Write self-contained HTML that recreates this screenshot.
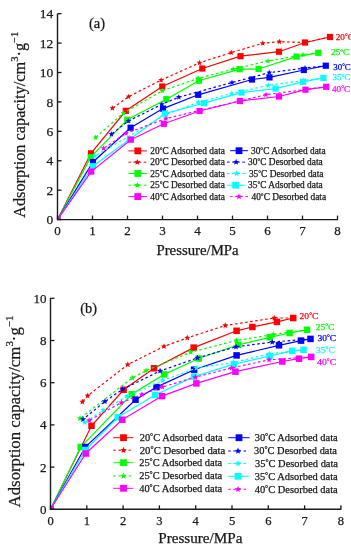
<!DOCTYPE html>
<html><head><meta charset="utf-8"><style>
html,body{margin:0;padding:0;background:#fff;}
svg{display:block;will-change:transform;}
text{font-family:"Liberation Serif",serif;fill:#1a1a1a;stroke:#1a1a1a;stroke-width:0.25px;}
</style></head><body>
<svg width="351" height="550" viewBox="0 0 351 550">
<rect width="351" height="550" fill="#fff"/>
<defs><clipPath id="ct"><rect x="57.5" y="0" width="300" height="219.6"/></clipPath><clipPath id="cb"><rect x="50.5" y="280" width="300" height="229.3"/></clipPath></defs>
<g clip-path="url(#ct)"><polyline points="57.5,219.6 91.0,153.3 125.8,110.8 162.3,86.5 202.3,68.5 240.5,56.2 279.0,51.7 305.0,42.5 330.0,37.0" fill="none" stroke="#ff0000" stroke-width="1.2"/>
<polyline points="330.0,37.0 305.0,42.5 279.4,41.7 262.7,43.3 231.2,52.6 199.5,62.8 161.1,80.1 128.6,96.7 112.4,108.2" fill="none" stroke="#ff0000" stroke-width="1.2" stroke-dasharray="2.6,2.5"/>
<rect x="54.40" y="216.50" width="6.2" height="6.2" fill="#ff0000"/>
<rect x="87.90" y="150.20" width="6.2" height="6.2" fill="#ff0000"/>
<rect x="122.70" y="107.70" width="6.2" height="6.2" fill="#ff0000"/>
<rect x="159.20" y="83.40" width="6.2" height="6.2" fill="#ff0000"/>
<rect x="199.20" y="65.40" width="6.2" height="6.2" fill="#ff0000"/>
<rect x="237.40" y="53.10" width="6.2" height="6.2" fill="#ff0000"/>
<rect x="275.90" y="48.60" width="6.2" height="6.2" fill="#ff0000"/>
<rect x="301.90" y="39.40" width="6.2" height="6.2" fill="#ff0000"/>
<rect x="326.90" y="33.90" width="6.2" height="6.2" fill="#ff0000"/>
<path d="M305.00,39.50 L305.79,41.41 L307.85,41.57 L306.28,42.92 L306.76,44.93 L305.00,43.85 L303.24,44.93 L303.72,42.92 L302.15,41.57 L304.21,41.41Z" fill="#ff0000"/>
<path d="M279.40,38.70 L280.19,40.61 L282.25,40.77 L280.68,42.12 L281.16,44.13 L279.40,43.05 L277.64,44.13 L278.12,42.12 L276.55,40.77 L278.61,40.61Z" fill="#ff0000"/>
<path d="M262.70,40.30 L263.49,42.21 L265.55,42.37 L263.98,43.72 L264.46,45.73 L262.70,44.65 L260.94,45.73 L261.42,43.72 L259.85,42.37 L261.91,42.21Z" fill="#ff0000"/>
<path d="M231.20,49.60 L231.99,51.51 L234.05,51.67 L232.48,53.02 L232.96,55.03 L231.20,53.95 L229.44,55.03 L229.92,53.02 L228.35,51.67 L230.41,51.51Z" fill="#ff0000"/>
<path d="M199.50,59.80 L200.29,61.71 L202.35,61.87 L200.78,63.22 L201.26,65.23 L199.50,64.15 L197.74,65.23 L198.22,63.22 L196.65,61.87 L198.71,61.71Z" fill="#ff0000"/>
<path d="M161.10,77.10 L161.89,79.01 L163.95,79.17 L162.38,80.52 L162.86,82.53 L161.10,81.45 L159.34,82.53 L159.82,80.52 L158.25,79.17 L160.31,79.01Z" fill="#ff0000"/>
<path d="M128.60,93.70 L129.39,95.61 L131.45,95.77 L129.88,97.12 L130.36,99.13 L128.60,98.05 L126.84,99.13 L127.32,97.12 L125.75,95.77 L127.81,95.61Z" fill="#ff0000"/>
<path d="M112.40,105.20 L113.19,107.11 L115.25,107.27 L113.68,108.62 L114.16,110.63 L112.40,109.55 L110.64,110.63 L111.12,108.62 L109.55,107.27 L111.61,107.11Z" fill="#ff0000"/>
<polyline points="57.5,219.6 90.8,157.2 127.3,119.7 166.3,99.2 198.8,80.7 239.6,69.2 258.6,69.0 296.5,56.6 318.3,52.8" fill="none" stroke="#00ff00" stroke-width="1.2"/>
<polyline points="318.3,52.8 303.0,54.8 268.0,61.0 233.2,69.2 198.2,78.4 162.2,90.8 123.4,113.0 95.5,137.6" fill="none" stroke="#00ff00" stroke-width="1.2" stroke-dasharray="2.6,2.5"/>
<rect x="54.40" y="216.50" width="6.2" height="6.2" fill="#00ff00"/>
<rect x="87.70" y="154.10" width="6.2" height="6.2" fill="#00ff00"/>
<rect x="124.20" y="116.60" width="6.2" height="6.2" fill="#00ff00"/>
<rect x="163.20" y="96.10" width="6.2" height="6.2" fill="#00ff00"/>
<rect x="195.70" y="77.60" width="6.2" height="6.2" fill="#00ff00"/>
<rect x="236.50" y="66.10" width="6.2" height="6.2" fill="#00ff00"/>
<rect x="255.50" y="65.90" width="6.2" height="6.2" fill="#00ff00"/>
<rect x="293.40" y="53.50" width="6.2" height="6.2" fill="#00ff00"/>
<rect x="315.20" y="49.70" width="6.2" height="6.2" fill="#00ff00"/>
<path d="M303.00,51.80 L303.79,53.71 L305.85,53.87 L304.28,55.22 L304.76,57.23 L303.00,56.15 L301.24,57.23 L301.72,55.22 L300.15,53.87 L302.21,53.71Z" fill="#00ff00"/>
<path d="M268.00,58.00 L268.79,59.91 L270.85,60.07 L269.28,61.42 L269.76,63.43 L268.00,62.35 L266.24,63.43 L266.72,61.42 L265.15,60.07 L267.21,59.91Z" fill="#00ff00"/>
<path d="M233.20,66.20 L233.99,68.11 L236.05,68.27 L234.48,69.62 L234.96,71.63 L233.20,70.55 L231.44,71.63 L231.92,69.62 L230.35,68.27 L232.41,68.11Z" fill="#00ff00"/>
<path d="M198.20,75.40 L198.99,77.31 L201.05,77.47 L199.48,78.82 L199.96,80.83 L198.20,79.75 L196.44,80.83 L196.92,78.82 L195.35,77.47 L197.41,77.31Z" fill="#00ff00"/>
<path d="M162.20,87.80 L162.99,89.71 L165.05,89.87 L163.48,91.22 L163.96,93.23 L162.20,92.15 L160.44,93.23 L160.92,91.22 L159.35,89.87 L161.41,89.71Z" fill="#00ff00"/>
<path d="M123.40,110.00 L124.19,111.91 L126.25,112.07 L124.68,113.42 L125.16,115.43 L123.40,114.35 L121.64,115.43 L122.12,113.42 L120.55,112.07 L122.61,111.91Z" fill="#00ff00"/>
<path d="M95.50,134.60 L96.29,136.51 L98.35,136.67 L96.78,138.02 L97.26,140.03 L95.50,138.95 L93.74,140.03 L94.22,138.02 L92.65,136.67 L94.71,136.51Z" fill="#00ff00"/>
<polyline points="57.5,219.6 93.0,162.0 130.6,127.7 163.0,108.6 198.2,94.8 252.0,79.5 269.5,77.4 303.8,70.0 325.8,65.7" fill="none" stroke="#0000ff" stroke-width="1.2"/>
<polyline points="325.8,65.7 305.0,68.0 269.3,72.7 232.0,82.5 178.8,97.2 161.9,104.3 128.2,121.1 111.4,134.2" fill="none" stroke="#0000ff" stroke-width="1.2" stroke-dasharray="2.6,2.5"/>
<rect x="54.40" y="216.50" width="6.2" height="6.2" fill="#0000ff"/>
<rect x="89.90" y="158.90" width="6.2" height="6.2" fill="#0000ff"/>
<rect x="127.50" y="124.60" width="6.2" height="6.2" fill="#0000ff"/>
<rect x="159.90" y="105.50" width="6.2" height="6.2" fill="#0000ff"/>
<rect x="195.10" y="91.70" width="6.2" height="6.2" fill="#0000ff"/>
<rect x="248.90" y="76.40" width="6.2" height="6.2" fill="#0000ff"/>
<rect x="266.40" y="74.30" width="6.2" height="6.2" fill="#0000ff"/>
<rect x="300.70" y="66.90" width="6.2" height="6.2" fill="#0000ff"/>
<rect x="322.70" y="62.60" width="6.2" height="6.2" fill="#0000ff"/>
<path d="M305.00,65.00 L305.79,66.91 L307.85,67.07 L306.28,68.42 L306.76,70.43 L305.00,69.35 L303.24,70.43 L303.72,68.42 L302.15,67.07 L304.21,66.91Z" fill="#0000ff"/>
<path d="M269.30,69.70 L270.09,71.61 L272.15,71.77 L270.58,73.12 L271.06,75.13 L269.30,74.05 L267.54,75.13 L268.02,73.12 L266.45,71.77 L268.51,71.61Z" fill="#0000ff"/>
<path d="M232.00,79.50 L232.79,81.41 L234.85,81.57 L233.28,82.92 L233.76,84.93 L232.00,83.85 L230.24,84.93 L230.72,82.92 L229.15,81.57 L231.21,81.41Z" fill="#0000ff"/>
<path d="M178.80,94.20 L179.59,96.11 L181.65,96.27 L180.08,97.62 L180.56,99.63 L178.80,98.55 L177.04,99.63 L177.52,97.62 L175.95,96.27 L178.01,96.11Z" fill="#0000ff"/>
<path d="M161.90,101.30 L162.69,103.21 L164.75,103.37 L163.18,104.72 L163.66,106.73 L161.90,105.65 L160.14,106.73 L160.62,104.72 L159.05,103.37 L161.11,103.21Z" fill="#0000ff"/>
<path d="M128.20,118.10 L128.99,120.01 L131.05,120.17 L129.48,121.52 L129.96,123.53 L128.20,122.45 L126.44,123.53 L126.92,121.52 L125.35,120.17 L127.41,120.01Z" fill="#0000ff"/>
<path d="M111.40,131.20 L112.19,133.11 L114.25,133.27 L112.68,134.62 L113.16,136.63 L111.40,135.55 L109.64,136.63 L110.12,134.62 L108.55,133.27 L110.61,133.11Z" fill="#0000ff"/>
<polyline points="57.5,219.6 93.0,166.2 129.8,139.2 165.0,113.5 204.0,103.2 241.5,92.6 275.5,88.6 303.0,81.8 323.4,78.0" fill="none" stroke="#00ffff" stroke-width="1.2"/>
<polyline points="323.4,78.0 303.7,80.5 268.3,85.3 231.7,93.5 198.6,102.3 165.6,114.6 95.0,156.0" fill="none" stroke="#00ffff" stroke-width="1.2" stroke-dasharray="2.6,2.5"/>
<rect x="54.40" y="216.50" width="6.2" height="6.2" fill="#00ffff"/>
<rect x="89.90" y="163.10" width="6.2" height="6.2" fill="#00ffff"/>
<rect x="126.70" y="136.10" width="6.2" height="6.2" fill="#00ffff"/>
<rect x="161.90" y="110.40" width="6.2" height="6.2" fill="#00ffff"/>
<rect x="200.90" y="100.10" width="6.2" height="6.2" fill="#00ffff"/>
<rect x="238.40" y="89.50" width="6.2" height="6.2" fill="#00ffff"/>
<rect x="272.40" y="85.50" width="6.2" height="6.2" fill="#00ffff"/>
<rect x="299.90" y="78.70" width="6.2" height="6.2" fill="#00ffff"/>
<rect x="320.30" y="74.90" width="6.2" height="6.2" fill="#00ffff"/>
<path d="M303.70,77.50 L304.49,79.41 L306.55,79.57 L304.98,80.92 L305.46,82.93 L303.70,81.85 L301.94,82.93 L302.42,80.92 L300.85,79.57 L302.91,79.41Z" fill="#00ffff"/>
<path d="M268.30,82.30 L269.09,84.21 L271.15,84.37 L269.58,85.72 L270.06,87.73 L268.30,86.65 L266.54,87.73 L267.02,85.72 L265.45,84.37 L267.51,84.21Z" fill="#00ffff"/>
<path d="M231.70,90.50 L232.49,92.41 L234.55,92.57 L232.98,93.92 L233.46,95.93 L231.70,94.85 L229.94,95.93 L230.42,93.92 L228.85,92.57 L230.91,92.41Z" fill="#00ffff"/>
<path d="M198.60,99.30 L199.39,101.21 L201.45,101.37 L199.88,102.72 L200.36,104.73 L198.60,103.65 L196.84,104.73 L197.32,102.72 L195.75,101.37 L197.81,101.21Z" fill="#00ffff"/>
<path d="M165.60,111.60 L166.39,113.51 L168.45,113.67 L166.88,115.02 L167.36,117.03 L165.60,115.95 L163.84,117.03 L164.32,115.02 L162.75,113.67 L164.81,113.51Z" fill="#00ffff"/>
<path d="M95.00,153.00 L95.79,154.91 L97.85,155.07 L96.28,156.42 L96.76,158.43 L95.00,157.35 L93.24,158.43 L93.72,156.42 L92.15,155.07 L94.21,154.91Z" fill="#00ffff"/>
<polyline points="57.5,219.6 91.2,171.6 130.8,139.7 163.8,123.8 199.6,111.0 239.9,101.0 279.0,96.5 305.5,89.7 326.2,86.8" fill="none" stroke="#ff00ff" stroke-width="1.2"/>
<polyline points="326.2,86.8 266.0,94.7 166.0,118.5 126.0,133.4 103.5,148.4" fill="none" stroke="#ff00ff" stroke-width="1.2" stroke-dasharray="2.6,2.5"/>
<rect x="54.40" y="216.50" width="6.2" height="6.2" fill="#ff00ff"/>
<rect x="88.10" y="168.50" width="6.2" height="6.2" fill="#ff00ff"/>
<rect x="127.70" y="136.60" width="6.2" height="6.2" fill="#ff00ff"/>
<rect x="160.70" y="120.70" width="6.2" height="6.2" fill="#ff00ff"/>
<rect x="196.50" y="107.90" width="6.2" height="6.2" fill="#ff00ff"/>
<rect x="236.80" y="97.90" width="6.2" height="6.2" fill="#ff00ff"/>
<rect x="275.90" y="93.40" width="6.2" height="6.2" fill="#ff00ff"/>
<rect x="302.40" y="86.60" width="6.2" height="6.2" fill="#ff00ff"/>
<rect x="323.10" y="83.70" width="6.2" height="6.2" fill="#ff00ff"/>
<path d="M266.00,91.70 L266.79,93.61 L268.85,93.77 L267.28,95.12 L267.76,97.13 L266.00,96.05 L264.24,97.13 L264.72,95.12 L263.15,93.77 L265.21,93.61Z" fill="#ff00ff"/>
<path d="M166.00,115.50 L166.79,117.41 L168.85,117.57 L167.28,118.92 L167.76,120.93 L166.00,119.85 L164.24,120.93 L164.72,118.92 L163.15,117.57 L165.21,117.41Z" fill="#ff00ff"/>
<path d="M126.00,130.40 L126.79,132.31 L128.85,132.47 L127.28,133.82 L127.76,135.83 L126.00,134.75 L124.24,135.83 L124.72,133.82 L123.15,132.47 L125.21,132.31Z" fill="#ff00ff"/>
<path d="M103.50,145.40 L104.29,147.31 L106.35,147.47 L104.78,148.82 L105.26,150.83 L103.50,149.75 L101.74,150.83 L102.22,148.82 L100.65,147.47 L102.71,147.31Z" fill="#ff00ff"/></g>
<g clip-path="url(#cb)"><polyline points="50.5,509.3 91.5,425.8 123.6,389.8 154.0,368.3 193.7,347.6 236.6,330.8 252.4,327.0 276.9,321.9 293.2,318.0" fill="none" stroke="#ff0000" stroke-width="1.2"/>
<polyline points="293.2,318.0 274.3,318.0 225.3,325.5 187.3,337.9 164.0,346.4 127.8,364.6 87.7,395.7 82.4,401.8" fill="none" stroke="#ff0000" stroke-width="1.2" stroke-dasharray="2.6,2.5"/>
<rect x="47.25" y="506.05" width="6.5" height="6.5" fill="#ff0000"/>
<rect x="88.25" y="422.55" width="6.5" height="6.5" fill="#ff0000"/>
<rect x="120.35" y="386.55" width="6.5" height="6.5" fill="#ff0000"/>
<rect x="150.75" y="365.05" width="6.5" height="6.5" fill="#ff0000"/>
<rect x="190.45" y="344.35" width="6.5" height="6.5" fill="#ff0000"/>
<rect x="233.35" y="327.55" width="6.5" height="6.5" fill="#ff0000"/>
<rect x="249.15" y="323.75" width="6.5" height="6.5" fill="#ff0000"/>
<rect x="273.65" y="318.65" width="6.5" height="6.5" fill="#ff0000"/>
<rect x="289.95" y="314.75" width="6.5" height="6.5" fill="#ff0000"/>
<path d="M274.30,314.80 L275.15,316.84 L277.34,317.01 L275.67,318.44 L276.18,320.59 L274.30,319.44 L272.42,320.59 L272.93,318.44 L271.26,317.01 L273.45,316.84Z" fill="#ff0000"/>
<path d="M225.30,322.30 L226.15,324.34 L228.34,324.51 L226.67,325.94 L227.18,328.09 L225.30,326.94 L223.42,328.09 L223.93,325.94 L222.26,324.51 L224.45,324.34Z" fill="#ff0000"/>
<path d="M187.30,334.70 L188.15,336.74 L190.34,336.91 L188.67,338.34 L189.18,340.49 L187.30,339.34 L185.42,340.49 L185.93,338.34 L184.26,336.91 L186.45,336.74Z" fill="#ff0000"/>
<path d="M164.00,343.20 L164.85,345.24 L167.04,345.41 L165.37,346.84 L165.88,348.99 L164.00,347.84 L162.12,348.99 L162.63,346.84 L160.96,345.41 L163.15,345.24Z" fill="#ff0000"/>
<path d="M127.80,361.40 L128.65,363.44 L130.84,363.61 L129.17,365.04 L129.68,367.19 L127.80,366.04 L125.92,367.19 L126.43,365.04 L124.76,363.61 L126.95,363.44Z" fill="#ff0000"/>
<path d="M87.70,392.50 L88.55,394.54 L90.74,394.71 L89.07,396.14 L89.58,398.29 L87.70,397.14 L85.82,398.29 L86.33,396.14 L84.66,394.71 L86.85,394.54Z" fill="#ff0000"/>
<path d="M82.40,398.60 L83.25,400.64 L85.44,400.81 L83.77,402.24 L84.28,404.39 L82.40,403.24 L80.52,404.39 L81.03,402.24 L79.36,400.81 L81.55,400.64Z" fill="#ff0000"/>
<polyline points="50.5,509.3 80.7,447.0 131.7,394.3 164.2,374.4 198.7,358.5 238.3,344.8 269.8,337.3 289.6,333.0 307.0,329.8" fill="none" stroke="#00ff00" stroke-width="1.2"/>
<polyline points="307.0,329.8 273.2,334.5 236.5,340.5 190.7,352.2 146.0,370.6 132.3,377.9 80.0,418.5" fill="none" stroke="#00ff00" stroke-width="1.2" stroke-dasharray="2.6,2.5"/>
<rect x="47.25" y="506.05" width="6.5" height="6.5" fill="#00ff00"/>
<rect x="77.45" y="443.75" width="6.5" height="6.5" fill="#00ff00"/>
<rect x="128.45" y="391.05" width="6.5" height="6.5" fill="#00ff00"/>
<rect x="160.95" y="371.15" width="6.5" height="6.5" fill="#00ff00"/>
<rect x="195.45" y="355.25" width="6.5" height="6.5" fill="#00ff00"/>
<rect x="235.05" y="341.55" width="6.5" height="6.5" fill="#00ff00"/>
<rect x="266.55" y="334.05" width="6.5" height="6.5" fill="#00ff00"/>
<rect x="286.35" y="329.75" width="6.5" height="6.5" fill="#00ff00"/>
<rect x="303.75" y="326.55" width="6.5" height="6.5" fill="#00ff00"/>
<path d="M273.20,331.30 L274.05,333.34 L276.24,333.51 L274.57,334.94 L275.08,337.09 L273.20,335.94 L271.32,337.09 L271.83,334.94 L270.16,333.51 L272.35,333.34Z" fill="#00ff00"/>
<path d="M236.50,337.30 L237.35,339.34 L239.54,339.51 L237.87,340.94 L238.38,343.09 L236.50,341.94 L234.62,343.09 L235.13,340.94 L233.46,339.51 L235.65,339.34Z" fill="#00ff00"/>
<path d="M190.70,349.00 L191.55,351.04 L193.74,351.21 L192.07,352.64 L192.58,354.79 L190.70,353.64 L188.82,354.79 L189.33,352.64 L187.66,351.21 L189.85,351.04Z" fill="#00ff00"/>
<path d="M146.00,367.40 L146.85,369.44 L149.04,369.61 L147.37,371.04 L147.88,373.19 L146.00,372.04 L144.12,373.19 L144.63,371.04 L142.96,369.61 L145.15,369.44Z" fill="#00ff00"/>
<path d="M132.30,374.70 L133.15,376.74 L135.34,376.91 L133.67,378.34 L134.18,380.49 L132.30,379.34 L130.42,380.49 L130.93,378.34 L129.26,376.91 L131.45,376.74Z" fill="#00ff00"/>
<path d="M80.00,415.30 L80.85,417.34 L83.04,417.51 L81.37,418.94 L81.88,421.09 L80.00,419.94 L78.12,421.09 L78.63,418.94 L76.96,417.51 L79.15,417.34Z" fill="#00ff00"/>
<polyline points="50.5,509.3 85.3,447.0 135.5,399.7 156.5,387.1 194.1,369.7 236.6,355.4 279.0,345.3 301.0,340.6 310.5,338.9" fill="none" stroke="#0000ff" stroke-width="1.2"/>
<polyline points="310.5,338.9 272.2,342.1 236.0,346.8 197.5,357.9 160.1,371.0 122.5,389.3 104.9,401.5 83.1,419.3" fill="none" stroke="#0000ff" stroke-width="1.2" stroke-dasharray="2.6,2.5"/>
<rect x="47.25" y="506.05" width="6.5" height="6.5" fill="#0000ff"/>
<rect x="82.05" y="443.75" width="6.5" height="6.5" fill="#0000ff"/>
<rect x="132.25" y="396.45" width="6.5" height="6.5" fill="#0000ff"/>
<rect x="153.25" y="383.85" width="6.5" height="6.5" fill="#0000ff"/>
<rect x="190.85" y="366.45" width="6.5" height="6.5" fill="#0000ff"/>
<rect x="233.35" y="352.15" width="6.5" height="6.5" fill="#0000ff"/>
<rect x="275.75" y="342.05" width="6.5" height="6.5" fill="#0000ff"/>
<rect x="297.75" y="337.35" width="6.5" height="6.5" fill="#0000ff"/>
<rect x="307.25" y="335.65" width="6.5" height="6.5" fill="#0000ff"/>
<path d="M272.20,338.90 L273.05,340.94 L275.24,341.11 L273.57,342.54 L274.08,344.69 L272.20,343.54 L270.32,344.69 L270.83,342.54 L269.16,341.11 L271.35,340.94Z" fill="#0000ff"/>
<path d="M236.00,343.60 L236.85,345.64 L239.04,345.81 L237.37,347.24 L237.88,349.39 L236.00,348.24 L234.12,349.39 L234.63,347.24 L232.96,345.81 L235.15,345.64Z" fill="#0000ff"/>
<path d="M197.50,354.70 L198.35,356.74 L200.54,356.91 L198.87,358.34 L199.38,360.49 L197.50,359.34 L195.62,360.49 L196.13,358.34 L194.46,356.91 L196.65,356.74Z" fill="#0000ff"/>
<path d="M160.10,367.80 L160.95,369.84 L163.14,370.01 L161.47,371.44 L161.98,373.59 L160.10,372.44 L158.22,373.59 L158.73,371.44 L157.06,370.01 L159.25,369.84Z" fill="#0000ff"/>
<path d="M122.50,386.10 L123.35,388.14 L125.54,388.31 L123.87,389.74 L124.38,391.89 L122.50,390.74 L120.62,391.89 L121.13,389.74 L119.46,388.31 L121.65,388.14Z" fill="#0000ff"/>
<path d="M104.90,398.30 L105.75,400.34 L107.94,400.51 L106.27,401.94 L106.78,404.09 L104.90,402.94 L103.02,404.09 L103.53,401.94 L101.86,400.51 L104.05,400.34Z" fill="#0000ff"/>
<path d="M83.10,416.10 L83.95,418.14 L86.14,418.31 L84.47,419.74 L84.98,421.89 L83.10,420.74 L81.22,421.89 L81.73,419.74 L80.06,418.31 L82.25,418.14Z" fill="#0000ff"/>
<polyline points="50.5,509.3 85.3,450.0 117.9,417.3 155.0,395.0 194.1,376.6 234.0,364.2 269.7,356.0 292.2,350.9 303.5,349.8" fill="none" stroke="#00ffff" stroke-width="1.2"/>
<polyline points="303.5,349.8 269.5,353.9 233.3,362.5 196.4,368.1 162.4,380.6 127.0,396.2 103.2,410.2 84.8,422.5" fill="none" stroke="#00ffff" stroke-width="1.2" stroke-dasharray="2.6,2.5"/>
<rect x="47.25" y="506.05" width="6.5" height="6.5" fill="#00ffff"/>
<rect x="82.05" y="446.75" width="6.5" height="6.5" fill="#00ffff"/>
<rect x="114.65" y="414.05" width="6.5" height="6.5" fill="#00ffff"/>
<rect x="151.75" y="391.75" width="6.5" height="6.5" fill="#00ffff"/>
<rect x="190.85" y="373.35" width="6.5" height="6.5" fill="#00ffff"/>
<rect x="230.75" y="360.95" width="6.5" height="6.5" fill="#00ffff"/>
<rect x="266.45" y="352.75" width="6.5" height="6.5" fill="#00ffff"/>
<rect x="288.95" y="347.65" width="6.5" height="6.5" fill="#00ffff"/>
<rect x="300.25" y="346.55" width="6.5" height="6.5" fill="#00ffff"/>
<path d="M269.50,350.70 L270.35,352.74 L272.54,352.91 L270.87,354.34 L271.38,356.49 L269.50,355.34 L267.62,356.49 L268.13,354.34 L266.46,352.91 L268.65,352.74Z" fill="#00ffff"/>
<path d="M233.30,359.30 L234.15,361.34 L236.34,361.51 L234.67,362.94 L235.18,365.09 L233.30,363.94 L231.42,365.09 L231.93,362.94 L230.26,361.51 L232.45,361.34Z" fill="#00ffff"/>
<path d="M196.40,364.90 L197.25,366.94 L199.44,367.11 L197.77,368.54 L198.28,370.69 L196.40,369.54 L194.52,370.69 L195.03,368.54 L193.36,367.11 L195.55,366.94Z" fill="#00ffff"/>
<path d="M162.40,377.40 L163.25,379.44 L165.44,379.61 L163.77,381.04 L164.28,383.19 L162.40,382.04 L160.52,383.19 L161.03,381.04 L159.36,379.61 L161.55,379.44Z" fill="#00ffff"/>
<path d="M127.00,393.00 L127.85,395.04 L130.04,395.21 L128.37,396.64 L128.88,398.79 L127.00,397.64 L125.12,398.79 L125.63,396.64 L123.96,395.21 L126.15,395.04Z" fill="#00ffff"/>
<path d="M103.20,407.00 L104.05,409.04 L106.24,409.21 L104.57,410.64 L105.08,412.79 L103.20,411.64 L101.32,412.79 L101.83,410.64 L100.16,409.21 L102.35,409.04Z" fill="#00ffff"/>
<path d="M84.80,419.30 L85.65,421.34 L87.84,421.51 L86.17,422.94 L86.68,425.09 L84.80,423.94 L82.92,425.09 L83.43,422.94 L81.76,421.51 L83.95,421.34Z" fill="#00ffff"/>
<polyline points="50.5,509.3 85.8,453.5 122.2,419.7 162.0,396.1 196.4,383.4 235.4,371.7 282.3,361.5 299.0,358.7 311.2,356.9" fill="none" stroke="#ff00ff" stroke-width="1.2"/>
<polyline points="311.2,356.9 269.0,359.8 231.7,367.9 195.3,377.2 162.4,387.0 141.9,394.5 121.4,402.6 89.2,420.4" fill="none" stroke="#ff00ff" stroke-width="1.2" stroke-dasharray="2.6,2.5"/>
<rect x="47.25" y="506.05" width="6.5" height="6.5" fill="#ff00ff"/>
<rect x="82.55" y="450.25" width="6.5" height="6.5" fill="#ff00ff"/>
<rect x="118.95" y="416.45" width="6.5" height="6.5" fill="#ff00ff"/>
<rect x="158.75" y="392.85" width="6.5" height="6.5" fill="#ff00ff"/>
<rect x="193.15" y="380.15" width="6.5" height="6.5" fill="#ff00ff"/>
<rect x="232.15" y="368.45" width="6.5" height="6.5" fill="#ff00ff"/>
<rect x="279.05" y="358.25" width="6.5" height="6.5" fill="#ff00ff"/>
<rect x="295.75" y="355.45" width="6.5" height="6.5" fill="#ff00ff"/>
<rect x="307.95" y="353.65" width="6.5" height="6.5" fill="#ff00ff"/>
<path d="M269.00,356.60 L269.85,358.64 L272.04,358.81 L270.37,360.24 L270.88,362.39 L269.00,361.24 L267.12,362.39 L267.63,360.24 L265.96,358.81 L268.15,358.64Z" fill="#ff00ff"/>
<path d="M231.70,364.70 L232.55,366.74 L234.74,366.91 L233.07,368.34 L233.58,370.49 L231.70,369.34 L229.82,370.49 L230.33,368.34 L228.66,366.91 L230.85,366.74Z" fill="#ff00ff"/>
<path d="M195.30,374.00 L196.15,376.04 L198.34,376.21 L196.67,377.64 L197.18,379.79 L195.30,378.64 L193.42,379.79 L193.93,377.64 L192.26,376.21 L194.45,376.04Z" fill="#ff00ff"/>
<path d="M162.40,383.80 L163.25,385.84 L165.44,386.01 L163.77,387.44 L164.28,389.59 L162.40,388.44 L160.52,389.59 L161.03,387.44 L159.36,386.01 L161.55,385.84Z" fill="#ff00ff"/>
<path d="M141.90,391.30 L142.75,393.34 L144.94,393.51 L143.27,394.94 L143.78,397.09 L141.90,395.94 L140.02,397.09 L140.53,394.94 L138.86,393.51 L141.05,393.34Z" fill="#ff00ff"/>
<path d="M121.40,399.40 L122.25,401.44 L124.44,401.61 L122.77,403.04 L123.28,405.19 L121.40,404.04 L119.52,405.19 L120.03,403.04 L118.36,401.61 L120.55,401.44Z" fill="#ff00ff"/>
<path d="M89.20,417.20 L90.05,419.24 L92.24,419.41 L90.57,420.84 L91.08,422.99 L89.20,421.84 L87.32,422.99 L87.83,420.84 L86.16,419.41 L88.35,419.24Z" fill="#ff00ff"/></g>
<line x1="128.4" y1="150.9" x2="146.9" y2="150.9" stroke="#ff0000" stroke-width="1"/>
<rect x="134.40" y="147.50" width="6.8" height="6.8" fill="#ff0000"/>
<text x="150.3" y="153.97" font-size="9.3" textLength="74.6" lengthAdjust="spacingAndGlyphs">20<tspan font-size="6.98" dy="-1.86">°</tspan><tspan dy="1.86">C Adsorbed data</tspan></text>
<line x1="128.4" y1="162.2" x2="146.9" y2="162.2" stroke="#ff0000" stroke-width="1" stroke-dasharray="2.6,2.5"/>
<path d="M137.30,158.90 L138.17,161.00 L140.44,161.18 L138.71,162.66 L139.24,164.87 L137.30,163.69 L135.36,164.87 L135.89,162.66 L134.16,161.18 L136.43,161.00Z" fill="#ff0000"/>
<text x="150.3" y="165.27" font-size="9.3" textLength="74.6" lengthAdjust="spacingAndGlyphs">20<tspan font-size="6.98" dy="-1.86">°</tspan><tspan dy="1.86">C Desorbed data</tspan></text>
<line x1="128.4" y1="173.5" x2="146.9" y2="173.5" stroke="#00ff00" stroke-width="1"/>
<rect x="134.40" y="170.10" width="6.8" height="6.8" fill="#00ff00"/>
<text x="150.3" y="176.57" font-size="9.3" textLength="74.6" lengthAdjust="spacingAndGlyphs">25<tspan font-size="6.98" dy="-1.86">°</tspan><tspan dy="1.86">C Adsorbed data</tspan></text>
<line x1="128.4" y1="185.2" x2="146.9" y2="185.2" stroke="#00ff00" stroke-width="1" stroke-dasharray="2.6,2.5"/>
<path d="M137.30,181.90 L138.17,184.00 L140.44,184.18 L138.71,185.66 L139.24,187.87 L137.30,186.69 L135.36,187.87 L135.89,185.66 L134.16,184.18 L136.43,184.00Z" fill="#00ff00"/>
<text x="150.3" y="188.27" font-size="9.3" textLength="74.6" lengthAdjust="spacingAndGlyphs">25<tspan font-size="6.98" dy="-1.86">°</tspan><tspan dy="1.86">C Desorbed data</tspan></text>
<line x1="128.4" y1="196.6" x2="146.9" y2="196.6" stroke="#ff00ff" stroke-width="1"/>
<rect x="134.40" y="193.20" width="6.8" height="6.8" fill="#ff00ff"/>
<text x="150.3" y="199.67" font-size="9.3" textLength="74.6" lengthAdjust="spacingAndGlyphs">40<tspan font-size="6.98" dy="-1.86">°</tspan><tspan dy="1.86">C Adsorbed data</tspan></text>
<line x1="230.1" y1="150.7" x2="248.1" y2="150.7" stroke="#0000ff" stroke-width="1"/>
<rect x="235.60" y="147.30" width="6.8" height="6.8" fill="#0000ff"/>
<text x="251.0" y="153.77" font-size="9.3" textLength="74.6" lengthAdjust="spacingAndGlyphs">30<tspan font-size="6.98" dy="-1.86">°</tspan><tspan dy="1.86">C Adsorbed data</tspan></text>
<line x1="227.0" y1="162.1" x2="245.5" y2="162.1" stroke="#0000ff" stroke-width="1" stroke-dasharray="2.6,2.5"/>
<path d="M236.10,158.80 L236.97,160.90 L239.24,161.08 L237.51,162.56 L238.04,164.77 L236.10,163.59 L234.16,164.77 L234.69,162.56 L232.96,161.08 L235.23,160.90Z" fill="#0000ff"/>
<text x="248.1" y="165.17" font-size="9.3" textLength="74.6" lengthAdjust="spacingAndGlyphs">30<tspan font-size="6.98" dy="-1.86">°</tspan><tspan dy="1.86">C Desorbed data</tspan></text>
<line x1="227.0" y1="173.5" x2="246.4" y2="173.5" stroke="#00ffff" stroke-width="1" stroke-dasharray="2.6,2.5"/>
<path d="M236.60,170.20 L237.47,172.30 L239.74,172.48 L238.01,173.96 L238.54,176.17 L236.60,174.99 L234.66,176.17 L235.19,173.96 L233.46,172.48 L235.73,172.30Z" fill="#00ffff"/>
<text x="248.9" y="176.57" font-size="9.3" textLength="74.6" lengthAdjust="spacingAndGlyphs">35<tspan font-size="6.98" dy="-1.86">°</tspan><tspan dy="1.86">C Desorbed data</tspan></text>
<line x1="227.0" y1="185.2" x2="245.5" y2="185.2" stroke="#00ffff" stroke-width="1"/>
<rect x="232.20" y="181.80" width="6.8" height="6.8" fill="#00ffff"/>
<text x="248.1" y="188.27" font-size="9.3" textLength="74.6" lengthAdjust="spacingAndGlyphs">35<tspan font-size="6.98" dy="-1.86">°</tspan><tspan dy="1.86">C Adsorbed data</tspan></text>
<line x1="230.1" y1="196.6" x2="248.6" y2="196.6" stroke="#ff00ff" stroke-width="1" stroke-dasharray="2.6,2.5"/>
<path d="M239.00,193.30 L239.87,195.40 L242.14,195.58 L240.41,197.06 L240.94,199.27 L239.00,198.09 L237.06,199.27 L237.59,197.06 L235.86,195.58 L238.13,195.40Z" fill="#ff00ff"/>
<text x="251.5" y="199.67" font-size="9.3" textLength="74.6" lengthAdjust="spacingAndGlyphs">40<tspan font-size="6.98" dy="-1.86">°</tspan><tspan dy="1.86">C Desorbed data</tspan></text>
<line x1="113.2" y1="437.7" x2="133.2" y2="437.7" stroke="#ff0000" stroke-width="1"/>
<rect x="120.10" y="434.30" width="6.8" height="6.8" fill="#ff0000"/>
<text x="139.7" y="441.07" font-size="10.2" textLength="83.0" lengthAdjust="spacingAndGlyphs">20<tspan font-size="7.65" dy="-2.04">°</tspan><tspan dy="2.04">C Adsorbed data</tspan></text>
<line x1="113.2" y1="450.2" x2="133.2" y2="450.2" stroke="#ff0000" stroke-width="1" stroke-dasharray="2.6,2.5"/>
<path d="M123.50,446.80 L124.40,448.96 L126.73,449.15 L124.96,450.67 L125.50,452.95 L123.50,451.73 L121.50,452.95 L122.04,450.67 L120.27,449.15 L122.60,448.96Z" fill="#ff0000"/>
<text x="139.7" y="453.57" font-size="10.2" textLength="85.6" lengthAdjust="spacingAndGlyphs">20<tspan font-size="7.65" dy="-2.04">°</tspan><tspan dy="2.04">C Desorbed data</tspan></text>
<line x1="113.2" y1="462.7" x2="133.2" y2="462.7" stroke="#00ff00" stroke-width="1"/>
<rect x="120.10" y="459.30" width="6.8" height="6.8" fill="#00ff00"/>
<text x="139.2" y="466.07" font-size="10.2" textLength="83.0" lengthAdjust="spacingAndGlyphs">25<tspan font-size="7.65" dy="-2.04">°</tspan><tspan dy="2.04">C Adsorbed data</tspan></text>
<line x1="113.2" y1="475.9" x2="133.2" y2="475.9" stroke="#00ff00" stroke-width="1" stroke-dasharray="2.6,2.5"/>
<path d="M123.50,472.50 L124.40,474.66 L126.73,474.85 L124.96,476.37 L125.50,478.65 L123.50,477.43 L121.50,478.65 L122.04,476.37 L120.27,474.85 L122.60,474.66Z" fill="#00ff00"/>
<text x="139.2" y="479.27" font-size="10.2" textLength="83.0" lengthAdjust="spacingAndGlyphs">25<tspan font-size="7.65" dy="-2.04">°</tspan><tspan dy="2.04">C Desorbed data</tspan></text>
<line x1="113.2" y1="488.3" x2="133.2" y2="488.3" stroke="#ff00ff" stroke-width="1"/>
<rect x="120.10" y="484.90" width="6.8" height="6.8" fill="#ff00ff"/>
<text x="139.2" y="491.67" font-size="10.2" textLength="83.0" lengthAdjust="spacingAndGlyphs">40<tspan font-size="7.65" dy="-2.04">°</tspan><tspan dy="2.04">C Adsorbed data</tspan></text>
<line x1="228.2" y1="437.7" x2="249.6" y2="437.7" stroke="#0000ff" stroke-width="1"/>
<rect x="235.60" y="434.30" width="6.8" height="6.8" fill="#0000ff"/>
<text x="254.7" y="441.07" font-size="10.2" textLength="83.0" lengthAdjust="spacingAndGlyphs">30<tspan font-size="7.65" dy="-2.04">°</tspan><tspan dy="2.04">C Adsorbed data</tspan></text>
<line x1="228.2" y1="451.0" x2="248.7" y2="451.0" stroke="#0000ff" stroke-width="1" stroke-dasharray="2.6,2.5"/>
<path d="M238.00,447.60 L238.90,449.76 L241.23,449.95 L239.46,451.47 L240.00,453.75 L238.00,452.53 L236.00,453.75 L236.54,451.47 L234.77,449.95 L237.10,449.76Z" fill="#0000ff"/>
<text x="254.0" y="454.37" font-size="10.2" textLength="83.0" lengthAdjust="spacingAndGlyphs">30<tspan font-size="7.65" dy="-2.04">°</tspan><tspan dy="2.04">C Desorbed data</tspan></text>
<line x1="228.2" y1="463.5" x2="248.7" y2="463.5" stroke="#00ffff" stroke-width="1" stroke-dasharray="2.6,2.5"/>
<path d="M238.00,460.10 L238.90,462.26 L241.23,462.45 L239.46,463.97 L240.00,466.25 L238.00,465.03 L236.00,466.25 L236.54,463.97 L234.77,462.45 L237.10,462.26Z" fill="#00ffff"/>
<text x="255.0" y="466.87" font-size="10.2" textLength="83.0" lengthAdjust="spacingAndGlyphs">35<tspan font-size="7.65" dy="-2.04">°</tspan><tspan dy="2.04">C Desorbed data</tspan></text>
<line x1="228.2" y1="476.3" x2="248.7" y2="476.3" stroke="#00ffff" stroke-width="1"/>
<rect x="234.60" y="472.90" width="6.8" height="6.8" fill="#00ffff"/>
<text x="254.7" y="479.67" font-size="10.2" textLength="83.0" lengthAdjust="spacingAndGlyphs">35<tspan font-size="7.65" dy="-2.04">°</tspan><tspan dy="2.04">C Adsorbed data</tspan></text>
<line x1="228.2" y1="489.3" x2="248.7" y2="489.3" stroke="#ff00ff" stroke-width="1" stroke-dasharray="2.6,2.5"/>
<path d="M238.00,485.90 L238.90,488.06 L241.23,488.25 L239.46,489.77 L240.00,492.05 L238.00,490.83 L236.00,492.05 L236.54,489.77 L234.77,488.25 L237.10,488.06Z" fill="#ff00ff"/>
<text x="254.7" y="492.67" font-size="10.2" textLength="83.0" lengthAdjust="spacingAndGlyphs">40<tspan font-size="7.65" dy="-2.04">°</tspan><tspan dy="2.04">C Desorbed data</tspan></text>
<text x="335.8" y="39.5" font-size="8.8" textLength="18" lengthAdjust="spacingAndGlyphs" style="fill:#ff0000;stroke:#ff0000">20<tspan font-size="6.60" dy="-1.76">°</tspan><tspan dy="1.76">C</tspan></text>
<text x="331.0" y="55.4" font-size="8.8" textLength="18.3" lengthAdjust="spacingAndGlyphs" style="fill:#00ff00;stroke:#00ff00">25<tspan font-size="6.60" dy="-1.76">°</tspan><tspan dy="1.76">C</tspan></text>
<text x="333.3" y="70.0" font-size="8.8" textLength="17.5" lengthAdjust="spacingAndGlyphs" style="fill:#0000ff;stroke:#0000ff">30<tspan font-size="6.60" dy="-1.76">°</tspan><tspan dy="1.76">C</tspan></text>
<text x="332.5" y="80.3" font-size="8.8" textLength="17.7" lengthAdjust="spacingAndGlyphs" style="fill:#00ffff;stroke:#00ffff">35<tspan font-size="6.60" dy="-1.76">°</tspan><tspan dy="1.76">C</tspan></text>
<text x="332.0" y="91.6" font-size="8.8" textLength="18" lengthAdjust="spacingAndGlyphs" style="fill:#ff00ff;stroke:#ff00ff">40<tspan font-size="6.60" dy="-1.76">°</tspan><tspan dy="1.76">C</tspan></text>
<text x="299.6" y="318.5" font-size="9.1" textLength="18.8" lengthAdjust="spacingAndGlyphs" style="fill:#ff0000;stroke:#ff0000">20<tspan font-size="6.82" dy="-1.82">°</tspan><tspan dy="1.82">C</tspan></text>
<text x="315.7" y="329.6" font-size="9.1" textLength="18.8" lengthAdjust="spacingAndGlyphs" style="fill:#00ff00;stroke:#00ff00">25<tspan font-size="6.82" dy="-1.82">°</tspan><tspan dy="1.82">C</tspan></text>
<text x="317.4" y="340.8" font-size="9.1" textLength="18.8" lengthAdjust="spacingAndGlyphs" style="fill:#0000ff;stroke:#0000ff">30<tspan font-size="6.82" dy="-1.82">°</tspan><tspan dy="1.82">C</tspan></text>
<text x="316.0" y="352.8" font-size="9.1" textLength="18.8" lengthAdjust="spacingAndGlyphs" style="fill:#00ffff;stroke:#00ffff">35<tspan font-size="6.82" dy="-1.82">°</tspan><tspan dy="1.82">C</tspan></text>
<text x="317.1" y="364.6" font-size="9.1" textLength="19.1" lengthAdjust="spacingAndGlyphs" style="fill:#ff00ff;stroke:#ff00ff">40<tspan font-size="6.82" dy="-1.82">°</tspan><tspan dy="1.82">C</tspan></text>
<text x="88.9" y="27.5" font-size="14.5">(a)</text>
<text x="80.3" y="312.6" font-size="14.4">(b)</text>
<text x="156.4" y="254.6" font-size="14.4" textLength="82.3" lengthAdjust="spacingAndGlyphs">Pressure/MPa</text>
<text x="158.2" y="542.6" font-size="14" textLength="84.3" lengthAdjust="spacingAndGlyphs">Pressure/MPa</text>
<g transform="translate(24.9,217.8) rotate(-90)"><text id="yl1" x="0" y="0" font-size="16.3">Adsorption capacity/cm<tspan font-size="10.6" dy="-6.8">3</tspan><tspan dy="6.8">·g</tspan><tspan font-size="10.6" dy="-6.8">−1</tspan></text></g>
<g transform="translate(20.4,507.4) rotate(-90)"><text id="yl2" x="0" y="0" font-size="16.8">Adsorption capacity/cm<tspan font-size="10.9" dy="-7.1">3</tspan><tspan dy="7.1">·g</tspan><tspan font-size="10.9" dy="-7.1">−1</tspan></text></g>
<path d="M57.5,13.7 L57.5,219.6 L338.0,219.6" fill="none" stroke="#1a1a1a" stroke-width="1.4"/>
<line x1="57.5" y1="219.60" x2="61.5" y2="219.60" stroke="#1a1a1a" stroke-width="1.3"/>
<text x="53.2" y="224.19" font-size="13.5" text-anchor="end">0</text>
<line x1="57.5" y1="190.18" x2="61.5" y2="190.18" stroke="#1a1a1a" stroke-width="1.3"/>
<text x="53.2" y="194.77" font-size="13.5" text-anchor="end">2</text>
<line x1="57.5" y1="160.76" x2="61.5" y2="160.76" stroke="#1a1a1a" stroke-width="1.3"/>
<text x="53.2" y="165.35" font-size="13.5" text-anchor="end">4</text>
<line x1="57.5" y1="131.34" x2="61.5" y2="131.34" stroke="#1a1a1a" stroke-width="1.3"/>
<text x="53.2" y="135.93" font-size="13.5" text-anchor="end">6</text>
<line x1="57.5" y1="101.92" x2="61.5" y2="101.92" stroke="#1a1a1a" stroke-width="1.3"/>
<text x="53.2" y="106.51" font-size="13.5" text-anchor="end">8</text>
<line x1="57.5" y1="72.50" x2="61.5" y2="72.50" stroke="#1a1a1a" stroke-width="1.3"/>
<text x="53.2" y="77.09" font-size="13.5" text-anchor="end">10</text>
<line x1="57.5" y1="43.08" x2="61.5" y2="43.08" stroke="#1a1a1a" stroke-width="1.3"/>
<text x="53.2" y="47.67" font-size="13.5" text-anchor="end">12</text>
<line x1="57.5" y1="13.66" x2="61.5" y2="13.66" stroke="#1a1a1a" stroke-width="1.3"/>
<text x="53.2" y="18.25" font-size="13.5" text-anchor="end">14</text>
<line x1="57.50" y1="219.6" x2="57.50" y2="215.6" stroke="#1a1a1a" stroke-width="1.3"/>
<text x="57.50" y="234.6" font-size="13" text-anchor="middle">0</text>
<line x1="92.50" y1="219.6" x2="92.50" y2="215.6" stroke="#1a1a1a" stroke-width="1.3"/>
<text x="92.50" y="234.6" font-size="13" text-anchor="middle">1</text>
<line x1="127.50" y1="219.6" x2="127.50" y2="215.6" stroke="#1a1a1a" stroke-width="1.3"/>
<text x="127.50" y="234.6" font-size="13" text-anchor="middle">2</text>
<line x1="162.50" y1="219.6" x2="162.50" y2="215.6" stroke="#1a1a1a" stroke-width="1.3"/>
<text x="162.50" y="234.6" font-size="13" text-anchor="middle">3</text>
<line x1="197.50" y1="219.6" x2="197.50" y2="215.6" stroke="#1a1a1a" stroke-width="1.3"/>
<text x="197.50" y="234.6" font-size="13" text-anchor="middle">4</text>
<line x1="232.50" y1="219.6" x2="232.50" y2="215.6" stroke="#1a1a1a" stroke-width="1.3"/>
<text x="232.50" y="234.6" font-size="13" text-anchor="middle">5</text>
<line x1="267.50" y1="219.6" x2="267.50" y2="215.6" stroke="#1a1a1a" stroke-width="1.3"/>
<text x="267.50" y="234.6" font-size="13" text-anchor="middle">6</text>
<line x1="302.50" y1="219.6" x2="302.50" y2="215.6" stroke="#1a1a1a" stroke-width="1.3"/>
<text x="302.50" y="234.6" font-size="13" text-anchor="middle">7</text>
<line x1="337.50" y1="219.6" x2="337.50" y2="215.6" stroke="#1a1a1a" stroke-width="1.3"/>
<text x="337.50" y="234.6" font-size="13" text-anchor="middle">8</text>
<path d="M50.5,298.0 L50.5,509.3 L341.3,509.3" fill="none" stroke="#1a1a1a" stroke-width="1.4"/>
<line x1="50.5" y1="509.30" x2="54.5" y2="509.30" stroke="#1a1a1a" stroke-width="1.3"/>
<text x="46.4" y="513.72" font-size="13" text-anchor="end">0</text>
<line x1="50.5" y1="467.10" x2="54.5" y2="467.10" stroke="#1a1a1a" stroke-width="1.3"/>
<text x="46.4" y="471.52" font-size="13" text-anchor="end">2</text>
<line x1="50.5" y1="424.90" x2="54.5" y2="424.90" stroke="#1a1a1a" stroke-width="1.3"/>
<text x="46.4" y="429.32" font-size="13" text-anchor="end">4</text>
<line x1="50.5" y1="382.70" x2="54.5" y2="382.70" stroke="#1a1a1a" stroke-width="1.3"/>
<text x="46.4" y="387.12" font-size="13" text-anchor="end">6</text>
<line x1="50.5" y1="340.50" x2="54.5" y2="340.50" stroke="#1a1a1a" stroke-width="1.3"/>
<text x="46.4" y="344.92" font-size="13" text-anchor="end">8</text>
<line x1="50.5" y1="298.30" x2="54.5" y2="298.30" stroke="#1a1a1a" stroke-width="1.3"/>
<text x="46.4" y="302.72" font-size="13" text-anchor="end">10</text>
<line x1="50.50" y1="509.3" x2="50.50" y2="505.3" stroke="#1a1a1a" stroke-width="1.3"/>
<text x="50.50" y="524.8" font-size="12.5" text-anchor="middle">0</text>
<line x1="86.80" y1="509.3" x2="86.80" y2="505.3" stroke="#1a1a1a" stroke-width="1.3"/>
<text x="86.80" y="524.8" font-size="12.5" text-anchor="middle">1</text>
<line x1="123.10" y1="509.3" x2="123.10" y2="505.3" stroke="#1a1a1a" stroke-width="1.3"/>
<text x="123.10" y="524.8" font-size="12.5" text-anchor="middle">2</text>
<line x1="159.40" y1="509.3" x2="159.40" y2="505.3" stroke="#1a1a1a" stroke-width="1.3"/>
<text x="159.40" y="524.8" font-size="12.5" text-anchor="middle">3</text>
<line x1="195.70" y1="509.3" x2="195.70" y2="505.3" stroke="#1a1a1a" stroke-width="1.3"/>
<text x="195.70" y="524.8" font-size="12.5" text-anchor="middle">4</text>
<line x1="232.00" y1="509.3" x2="232.00" y2="505.3" stroke="#1a1a1a" stroke-width="1.3"/>
<text x="232.00" y="524.8" font-size="12.5" text-anchor="middle">5</text>
<line x1="268.30" y1="509.3" x2="268.30" y2="505.3" stroke="#1a1a1a" stroke-width="1.3"/>
<text x="268.30" y="524.8" font-size="12.5" text-anchor="middle">6</text>
<line x1="304.60" y1="509.3" x2="304.60" y2="505.3" stroke="#1a1a1a" stroke-width="1.3"/>
<text x="304.60" y="524.8" font-size="12.5" text-anchor="middle">7</text>
<line x1="340.90" y1="509.3" x2="340.90" y2="505.3" stroke="#1a1a1a" stroke-width="1.3"/>
<text x="340.90" y="524.8" font-size="12.5" text-anchor="middle">8</text>
</svg></body></html>
